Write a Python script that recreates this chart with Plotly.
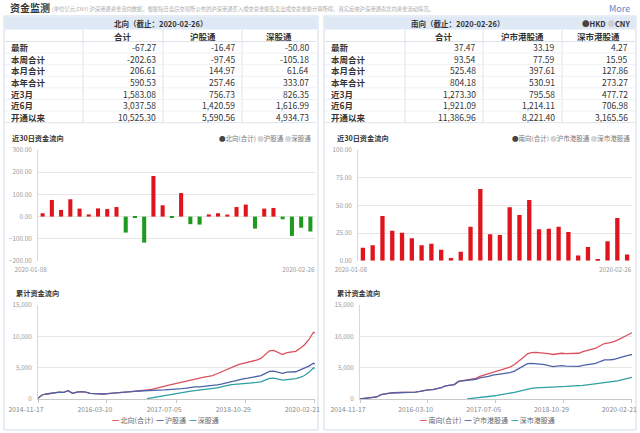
import plotly.graph_objects as go

W, H = 640, 433
FONT = "Noto Sans CJK SC"


def fx(x):
    return x / W


def fy(y):
    return 1 - y / H


# ---------------- data ----------------
row_labels = ["最新", "本周合计", "本月合计", "本年合计", "近3月", "近6月", "开通以来"]
north_headers = ["合计", "沪股通", "深股通"]
south_headers = ["合计", "沪市港股通", "深市港股通"]
north_total_tbl = [-67.27, -202.63, 206.61, 590.53, 1583.08, 3037.58, 10525.30]
north_sh_tbl = [-16.47, -97.45, 144.97, 257.46, 756.73, 1420.59, 5590.56]
north_sz_tbl = [-50.80, -105.18, 61.64, 333.07, 826.35, 1616.99, 4934.73]
south_total_tbl = [37.47, 93.54, 525.48, 804.18, 1273.30, 1921.09, 11386.96]
south_sh_tbl = [33.19, 77.59, 397.61, 530.91, 795.58, 1214.11, 8221.40]
south_sz_tbl = [4.27, 15.95, 127.86, 273.27, 477.72, 706.98, 3165.56]

north_days = ["2020-01-08", "2020-01-09", "2020-01-10", "2020-01-13", "2020-01-14", "2020-01-15",
              "2020-01-16", "2020-01-17", "2020-01-20", "2020-01-21", "2020-01-22", "2020-01-23",
              "2020-02-03", "2020-02-04", "2020-02-05", "2020-02-06", "2020-02-07", "2020-02-10",
              "2020-02-11", "2020-02-12", "2020-02-13", "2020-02-14", "2020-02-17", "2020-02-18",
              "2020-02-19", "2020-02-20", "2020-02-21", "2020-02-24", "2020-02-25", "2020-02-26"]
north_flow = [15, 75, 30, 78, 36, 10, 37, 34, 43, -72, -5, -117, 183, 51, -3, 106, -34, -36,
              10, 15, 9, 43, 54, -54, 36, 39, -12, -87, -50, -67.27]

south_days = ["2020-01-08", "2020-01-09", "2020-01-10", "2020-01-13", "2020-01-14", "2020-01-15",
              "2020-01-16", "2020-01-17", "2020-01-20", "2020-01-21", "2020-01-22",
              "2020-02-04", "2020-02-05", "2020-02-06", "2020-02-07", "2020-02-10",
              "2020-02-11", "2020-02-12", "2020-02-13", "2020-02-14", "2020-02-17", "2020-02-18",
              "2020-02-19", "2020-02-20", "2020-02-21", "2020-02-24", "2020-02-25", "2020-02-26"]
south_flow = [11.7, 13.9, 40.4, 27.0, 25.3, 20.2, 13.9, 15.4, 10.0, 2.4, 8.1, 30.7, 64.8, 24.0,
              23.2, 48.2, 41.3, 54.8, 28.3, 28.9, 30.7, 25.9, 4.8, 12.3, 1.5, 17.5, 38.6, 5.7]
bar_tick_text = ["2020-01-08", "2020-02-26"]

cum_dates = ["2014-11-17"] + [
    f"{2014 + (10 + k) // 12}-{(10 + k) % 12 + 1:02d}-15" for k in range(1, 64)
] + ["2020-02-26"]

north_cum_total = [120, 640, 800, 900, 1000, 1100, 1060, 1330, 900, 1100, 1170, 1100, 900, 850,
                   800, 800, 850, 900, 960, 960, 1060, 1170, 1220, 1280, 1330,
                   1390, 1530, 1710, 1900, 2070, 2220, 2370, 2530, 2690, 2870, 3110, 3270, 3370,
                   3480, 3600, 3740, 4030, 4330, 4670, 5010, 5280, 5520, 5700, 5840, 6000, 6200,
                   6470, 7050, 7700, 7770, 7430, 7100, 7400, 7500, 7600, 8100, 8650, 9500, 10650,
                   10525]
north_cum_sh = [120, 640, 800, 900, 1000, 1100, 1060, 1330, 900, 1100, 1170, 1100, 900, 850,
                800, 800, 850, 900, 960, 960, 1060, 1170, 1220, 1280, 1330,
                1340, 1350, 1380, 1420, 1450, 1480, 1520, 1580, 1640, 1720, 1850, 1920, 1950,
                2000, 2050, 2120, 2250, 2380, 2550, 2760, 2950, 3100, 3220, 3320, 3420, 3550,
                3720, 4050, 4400, 4450, 4280, 4100, 4300, 4350, 4350, 4650, 4900, 5250, 5700,
                5591]
north_cum_sz = [None] * 25 + [50, 180, 330, 480, 620, 740, 850, 950, 1050, 1150, 1260, 1350,
                              1420, 1480, 1550, 1620, 1780, 1950, 2120, 2250, 2330, 2420, 2480,
                              2520, 2580, 2650, 2750, 3000, 3300, 3320, 3150, 3000, 3100, 3150,
                              3250, 3450, 3750, 4250, 4950, 4935]

south_cum_total = [0, 60, 150, 250, 320, 700, 850, 950, 1000, 1000, 1000, 1000, 1050, 1100, 1200,
                   1350, 1450, 1500, 1600, 1800, 2100, 2150, 2300, 2800, 2900,
                   3000, 3100, 3300, 3600, 3800, 4000, 4300, 4500, 4700, 4900, 5100, 5500, 6000,
                   6600, 7200, 7400, 7450, 7400, 7350, 7250, 7100, 7200, 7300, 7250, 7250, 7250,
                   7300, 7550, 7700, 7900, 8100, 8500, 8850, 8950, 9100, 9400, 9800, 10100,
                   10450, 10550]
south_cum_sh = [0, 60, 150, 250, 320, 700, 850, 950, 1000, 1000, 1000, 1000, 1050, 1100, 1200,
                1350, 1450, 1500, 1600, 1800, 2100, 2150, 2300, 2800, 2900,
                2980, 3020, 3150, 3370, 3480, 3600, 3820, 3920, 4020, 4120, 4200, 4450, 4800,
                5220, 5650, 5700, 5670, 5570, 5480, 5350, 5180, 5250, 5320, 5250, 5230, 5200,
                5200, 5380, 5450, 5570, 5680, 5980, 6230, 6230, 6300, 6500, 6750, 6900, 7050,
                7100]
south_cum_sz = [None] * 25 + [20, 80, 150, 230, 320, 400, 480, 580, 680, 780, 900, 1050, 1200,
                              1380, 1550, 1700, 1780, 1830, 1870, 1900, 1920, 1950, 1980, 2000,
                              2020, 2050, 2100, 2170, 2250, 2330, 2420, 2520, 2620, 2720, 2800,
                              2900, 3050, 3200, 3400, 3450]
cum_ticks = ["2014-11-17", "2016-03-10", "2017-07-05", "2018-10-29", "2020-02-21"]

# ---------------- style ----------------
RED_BAR = "#e0141c"
GREEN_BAR = "#1f9a1f"
C_TOTAL = "#d9505c"
C_SH = "#4d62a8"
C_SZ = "#2fa0a4"
GRID = "#e6e6e6"
AXIS = "#d8d8d8"
TXT = "#333333"
LABEL = "#9a9a9a"
PANEL = "#cfdbe8"
HEAD_BG = "#dfe9f6"
VLINE = "#dde3ea"
HLINE = "#eef1f5"

fig = go.Figure()
shapes = []
annotations = []


def ann(x, y, text, size, color=TXT, anchor="left", bold=False):
    return dict(xref="paper", yref="paper", x=fx(x), y=fy(y),
                text=f"<b>{text}</b>" if bold else text,
                showarrow=False, xanchor=anchor, yanchor="middle",
                font=dict(family=FONT, size=size, color=color))


def line_shape(x0, y0, x1, y1, color, width=1):
    return dict(type="line", xref="paper", yref="paper", x0=fx(x0), x1=fx(x1),
                y0=fy(y0), y1=fy(y1), line=dict(color=color, width=width), layer="below")


def add_table(col_edges, headers, cols):
    top, head_bot, row_h = 29.5, 41.5, 11.6
    bottom = head_bot + row_h * len(row_labels)
    for xe in col_edges[1:-1]:
        shapes.append(line_shape(xe, top, xe, bottom, VLINE))
    shapes.append(line_shape(col_edges[0], head_bot, col_edges[-1], head_bot, VLINE))
    for i in range(1, len(row_labels)):
        yy = head_bot + row_h * i
        shapes.append(line_shape(col_edges[0], yy, col_edges[-1], yy, HLINE))
    shapes.append(line_shape(col_edges[0], bottom, col_edges[-1], bottom, VLINE))
    for j, h in enumerate(headers):
        cx = (col_edges[j + 1] + col_edges[j + 2]) / 2
        annotations.append(ann(cx, (top + head_bot) / 2, h, 8.5, bold=True, anchor="center"))
    for i, lab in enumerate(row_labels):
        cy = head_bot + row_h * (i + 0.5)
        annotations.append(ann(col_edges[0] + 4, cy, lab, 8.5, bold=True))
        for j, c in enumerate(cols):
            annotations.append(ann(col_edges[j + 2] - 5, cy, f"{c[i]:,.2f}", 8.5, anchor="right"))


add_table([5, 83, 163, 242, 316], north_headers, [north_total_tbl, north_sh_tbl, north_sz_tbl])
add_table([325, 405, 483, 562, 635], south_headers, [south_total_tbl, south_sh_tbl, south_sz_tbl])

fig.add_trace(go.Bar(x=north_days, y=north_flow, xaxis="x", yaxis="y", showlegend=False,
                     marker=dict(color=[RED_BAR if v >= 0 else GREEN_BAR for v in north_flow],
                                 line=dict(width=0))))
fig.add_trace(go.Bar(x=south_days, y=south_flow, xaxis="x2", yaxis="y2", showlegend=False,
                     marker=dict(color=[RED_BAR if v >= 0 else GREEN_BAR for v in south_flow],
                                 line=dict(width=0))))

north_series = [("北向(合计)", north_cum_total, C_TOTAL), ("沪股通", north_cum_sh, C_SH),
                ("深股通", north_cum_sz, C_SZ)]
south_series = [("南向(合计)", south_cum_total, C_TOTAL), ("沪市港股通", south_cum_sh, C_SH),
                ("深市港股通", south_cum_sz, C_SZ)]
for name, ys, col in north_series:
    fig.add_trace(go.Scatter(x=cum_dates, y=ys, name=name, mode="lines", xaxis="x3", yaxis="y3",
                             line=dict(color=col, width=1.3), showlegend=False))
for name, ys, col in south_series:
    fig.add_trace(go.Scatter(x=cum_dates, y=ys, name=name, mode="lines", xaxis="x4", yaxis="y4",
                             line=dict(color=col, width=1.3), showlegend=False))

tickfont = dict(family=FONT, size=6.3, color=LABEL)


def bar_x(dom, anchor, days):
    return dict(domain=dom, anchor=anchor, type="category", tickvals=[days[0], days[-1]],
                ticktext=bar_tick_text, showgrid=False, showline=False, zeroline=False,
                ticks="", tickfont=tickfont, ticklabelshift=-12, ticklabelstandoff=4,
                automargin=False, fixedrange=True)


def y_ax(dom, anchor, rng, dtick, fmt):
    return dict(domain=dom, anchor=anchor, range=rng, dtick=dtick, tickformat=fmt,
                showgrid=True, gridcolor=GRID, gridwidth=1, showline=True, linecolor=AXIS,
                zeroline=False, ticks="", tickfont=tickfont, ticklabelstandoff=4,
                automargin=False)


def line_x(dom, anchor):
    return dict(domain=dom, anchor=anchor, type="date", range=["2014-11-17", "2020-02-26"],
                tickvals=cum_ticks, ticktext=cum_ticks, showgrid=False, showline=True,
                linecolor="#c8c8c8", ticks="outside", ticklen=3, tickcolor="#c8c8c8",
                tickfont=dict(family=FONT, size=6.8, color="#888"), ticklabelshift=-12,
                ticklabelstandoff=1, automargin=False)


for x0, x1 in [(4, 318), (324, 636)]:
    shapes.append(dict(type="rect", xref="paper", yref="paper", x0=fx(x0), x1=fx(x1),
                       y0=fy(430), y1=fy(16), line=dict(color=PANEL, width=1),
                       fillcolor="rgba(0,0,0,0)", layer="below"))
    shapes.append(dict(type="rect", xref="paper", yref="paper", x0=fx(x0 + 1), x1=fx(x1 - 1),
                       y0=fy(29.5), y1=fy(17), line=dict(width=0), fillcolor=HEAD_BG,
                       layer="below"))


def legend_text(series):
    parts = [f"<span style='color:{c}'>━</span> {n}" for n, _, c in series]
    return "  ".join(parts)


subtitle = ("(单位亿元,CNY) 沪深港通资金流向数据，根据每日盘后交易所公布的沪深港通买入成交总金额及卖出成交总金额"
            "计算所得，真实反映沪深港通南北向资金流动情况。")
annotations += [
    ann(8, 8, "资金监测", 10, bold=True),
    ann(50, 8.5, subtitle, 5.3, color="#aaaaaa"),
    ann(632, 8.5, "More", 9, color="#5b84c4", anchor="right"),
    ann(160, 23.5, "北向（截止：2020-02-26）", 7.5, bold=True, anchor="center"),
    ann(457, 23.5, "南向（截止：2020-02-26）", 7.5, bold=True, anchor="center"),
    ann(632, 23.5, "<span style='color:#444'>●</span>HKD <span style='color:#cfcfcf'>●</span>CNY",
        7.5, bold=True, anchor="right"),
    ann(10, 137.5, "近30日资金流向", 7.2, bold=True),
    ann(335, 137.5, "近30日资金流向", 7.2, bold=True),
    ann(313, 137.5, "<span style='color:#444'>●</span>北向(合计) <span style='color:#d5d5d5'>●</span>沪股通 "
                    "<span style='color:#d5d5d5'>●</span>深股通", 6.5, color="#777", anchor="right"),
    ann(632, 137.5, "<span style='color:#444'>●</span>南向(合计) <span style='color:#d5d5d5'>●</span>沪市港股通 "
                    "<span style='color:#d5d5d5'>●</span>深市港股通", 6.5, color="#777", anchor="right"),
    ann(14, 293, "累计资金流向", 7.2, bold=True),
    ann(335, 293, "累计资金流向", 7.2, bold=True),
    ann(165, 420, legend_text(north_series), 7, color="#666", anchor="center"),
    ann(487, 420, legend_text(south_series), 7, color="#666", anchor="center"),
]

fig.update_layout(
    width=W, height=H, margin=dict(l=0, r=0, t=0, b=0, autoexpand=False),
    paper_bgcolor="white", plot_bgcolor="white",
    font=dict(family=FONT, color=TXT),
    bargap=0.56, showlegend=False,
    xaxis=bar_x([fx(38), fx(315)], "y", north_days),
    yaxis=y_ax([fy(261), fy(150)], "x", [-200, 300], 100, ".2f"),
    xaxis2=bar_x([fx(358), fx(632)], "y2", south_days),
    yaxis2=y_ax([fy(260.7), fy(150)], "x2", [0, 100], 25, ".2f"),
    xaxis3=line_x([fx(38), fx(315)], "y3"),
    yaxis3=y_ax([fy(399), fy(305)], "x3", [0, 15000], 5000, ",d"),
    xaxis4=line_x([fx(360), fx(632)], "y4"),
    yaxis4=y_ax([fy(399), fy(305)], "x4", [0, 15000], 5000, ",d"),
    shapes=shapes,
    annotations=annotations,
)

fig.write_html("out.html", config={"displayModeBar": False},
               post_script="document.body.style.margin='0px';document.body.style.overflow='hidden';")
